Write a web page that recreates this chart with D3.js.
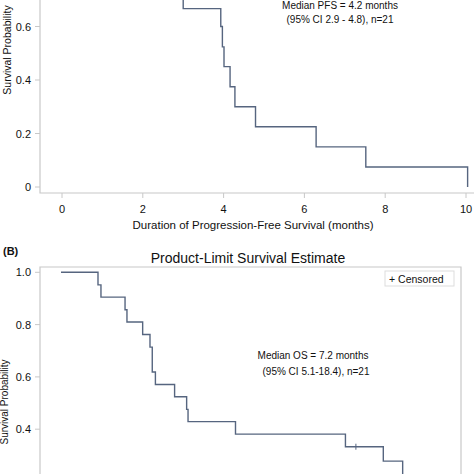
<!DOCTYPE html>
<html><head><meta charset="utf-8">
<script src="https://cdn.jsdelivr.net/npm/d3@7"></script>
<style>body{margin:0;background:#fff}text{font-family:Arial,"Liberation Sans",sans-serif;fill:#111}</style>
</head><body>
<svg id="c" width="474" height="474"></svg>
<script>
// PFS (panel A, top cropped)
const pfsTime = [0, 2.5, 3.0, 3.93, 3.97, 4.01, 4.16, 4.28, 4.79, 6.29, 7.52, 10.04];
const pfsSurv = [1, 0.75, 0.667, 0.6, 0.524, 0.45, 0.375, 0.30, 0.225, 0.15, 0.075, 0];
const pfsTicksX = [0, 2, 4, 6, 8, 10];
const pfsTicksY = [0, 0.2, 0.4, 0.6];
// OS (panel B, bottom cropped)
const osTime = [0, 2.12, 2.29, 3.67, 3.78, 4.68, 5.1, 5.23, 5.41, 6.51, 7.2, 7.28, 10.0, 16.3, 18.47, 19.58];
const osSurv = [1, 0.952, 0.905, 0.857, 0.81, 0.762, 0.714, 0.619, 0.571, 0.524, 0.476, 0.429, 0.381, 0.333, 0.278, 0.185];
const osCensored = [16.9];
const osTicksY = [0.4, 0.6, 0.8, 1.0];

const svg = d3.select('#c');
const lineCol = '#56657f', axisCol = '#c8c8c8';

function stepLine(xs, ys, x, y) {
  return d3.line().x(d => x(d[0])).y(d => y(d[1])).curve(d3.curveStepAfter)(xs.map((t, i) => [t, ys[i]]));
}

// ---- panel A
{
  const x = d3.scaleLinear().domain([0, 10]).range([62, 466]);
  const y = d3.scaleLinear().domain([0, 1]).range([187, -80.5]);
  const g = svg.append('g');
  g.append('path').attr('d', 'M40,0V193H474').attr('fill', 'none').attr('stroke', axisCol).attr('stroke-width', 1.2);
  pfsTicksY.forEach(v => {
    g.append('line').attr('x1', 35).attr('x2', 40).attr('y1', y(v)).attr('y2', y(v)).attr('stroke', axisCol);
    g.append('text').attr('x', 31).attr('y', y(v) + 4).attr('text-anchor', 'end').attr('font-size', 11).text(v === 0 ? '0' : v.toFixed(1));
  });
  pfsTicksX.forEach(v => {
    g.append('line').attr('x1', x(v)).attr('x2', x(v)).attr('y1', 193).attr('y2', 198).attr('stroke', axisCol);
    g.append('text').attr('x', x(v)).attr('y', 213).attr('text-anchor', 'middle').attr('font-size', 11).text(v);
  });
  g.append('text').attr('x', 253).attr('y', 229).attr('text-anchor', 'middle').attr('font-size', 11.5).text('Duration of Progression-Free Survival (months)');
  g.append('text').attr('transform', 'translate(11,50) rotate(-90)').attr('text-anchor', 'middle').attr('font-size', 10.5).text('Survival Probability');
  g.append('text').attr('x', 340).attr('y', 9).attr('text-anchor', 'middle').attr('font-size', 10).text('Median PFS = 4.2 months');
  g.append('text').attr('x', 340).attr('y', 23).attr('text-anchor', 'middle').attr('font-size', 10).text('(95% CI 2.9 - 4.8), n=21');
  g.append('path').attr('d', stepLine(pfsTime, pfsSurv, x, y)).attr('fill', 'none').attr('stroke', lineCol).attr('stroke-width', 1.4);
}

// ---- panel B
{
  const x = d3.scaleLinear().domain([0, 10]).range([61, 235.5]);
  const y = d3.scaleLinear().domain([0, 1]).range([533.8, 272.3]);
  const g = svg.append('g');
  g.append('text').attr('x', 3).attr('y', 255).attr('font-size', 11).attr('font-weight', 'bold').text('(B)');
  g.append('text').attr('x', 248).attr('y', 263).attr('text-anchor', 'middle').attr('font-size', 14).text('Product-Limit Survival Estimate');
  g.append('path').attr('d', 'M40,474V267H461V474').attr('fill', 'none').attr('stroke', axisCol).attr('stroke-width', 1.2);
  osTicksY.forEach(v => {
    g.append('line').attr('x1', 35).attr('x2', 40).attr('y1', y(v)).attr('y2', y(v)).attr('stroke', axisCol);
    g.append('text').attr('x', 31).attr('y', y(v) + 4).attr('text-anchor', 'end').attr('font-size', 11).text(v.toFixed(1));
  });
  g.append('text').attr('transform', 'translate(8,402) rotate(-90)').attr('text-anchor', 'middle').attr('font-size', 10).text('Survival Probability');
  g.append('text').attr('x', 313).attr('y', 359).attr('text-anchor', 'middle').attr('font-size', 10).text('Median OS = 7.2 months');
  g.append('text').attr('x', 316).attr('y', 375).attr('text-anchor', 'middle').attr('font-size', 10).text('(95% CI 5.1-18.4), n=21');
  g.append('rect').attr('x', 385).attr('y', 271).attr('width', 69).attr('height', 15).attr('fill', '#fff').attr('stroke', '#ddd');
  g.append('text').attr('x', 389).attr('y', 282.5).attr('font-size', 10.5).text('+ Censored');
  g.append('path').attr('d', stepLine(osTime, osSurv, x, y)).attr('fill', 'none').attr('stroke', lineCol).attr('stroke-width', 1.4);
  osCensored.forEach(t => {
    const i = d3.bisectRight(osTime, t) - 1;
    g.append('line').attr('x1', x(t)).attr('x2', x(t)).attr('y1', y(osSurv[i]) - 3).attr('y2', y(osSurv[i]) + 3).attr('stroke', lineCol);
  });
}
</script>
</body></html>
